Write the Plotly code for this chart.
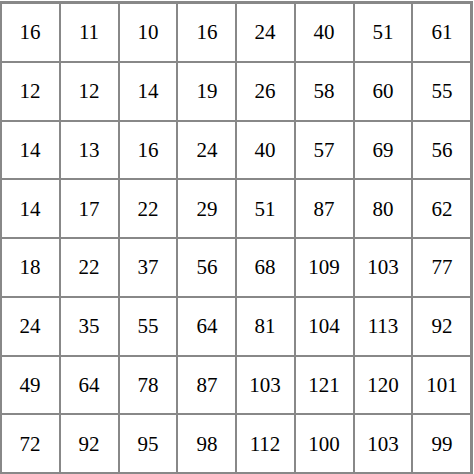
import plotly.graph_objects as go

# JPEG luminance quantization table
rows = [
    [16, 11, 10, 16, 24, 40, 51, 61],
    [12, 12, 14, 19, 26, 58, 60, 55],
    [14, 13, 16, 24, 40, 57, 69, 56],
    [14, 17, 22, 29, 51, 87, 80, 62],
    [18, 22, 37, 56, 68, 109, 103, 77],
    [24, 35, 55, 64, 81, 104, 113, 92],
    [49, 64, 78, 87, 103, 121, 120, 101],
    [72, 92, 95, 98, 112, 100, 103, 99],
]
cols = list(range(8))
row_idx = list(range(8))

fig = go.Figure(go.Heatmap(
    z=rows, x=cols, y=row_idx,
    text=rows, texttemplate="%{text}",
    textfont=dict(family="Liberation Serif", size=21, color="black"),
    colorscale=[[0, "white"], [1, "white"]],
    showscale=False, xgap=2, ygap=2, hoverinfo="skip",
))

fig.update_xaxes(visible=True, showticklabels=False, showgrid=False, zeroline=False,
                 showline=True, linecolor="#888888", linewidth=2, mirror=True,
                 range=[-0.5, 7.5])
fig.update_yaxes(visible=True, showticklabels=False, showgrid=False, zeroline=False,
                 showline=True, linecolor="#888888", linewidth=2, mirror=True,
                 range=[7.5, -0.5])
fig.update_layout(width=474, height=474, margin=dict(l=1, r=1, t=1, b=1),
                  plot_bgcolor="#888888", paper_bgcolor="white")

# remove the default page margin so the figure fills the window
fig.write_html("out.html", config={"displayModeBar": False},
               post_script="document.body.style.margin='0';document.body.style.overflow='hidden';")
